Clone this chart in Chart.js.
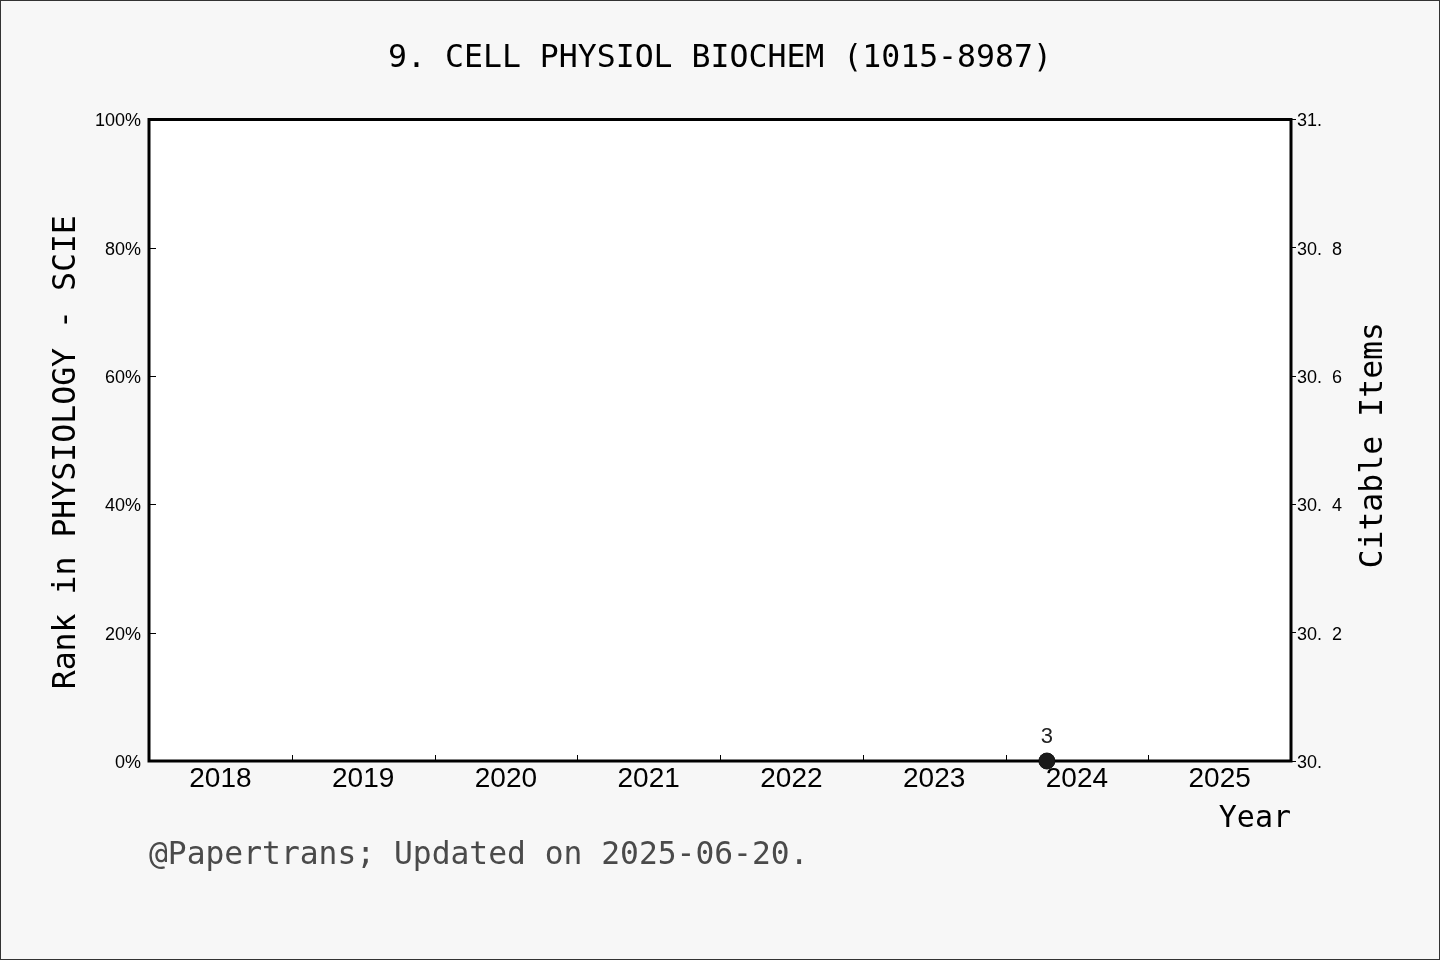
<!DOCTYPE html>
<html>
<head>
<meta charset="utf-8">
<script src="https://cdn.jsdelivr.net/npm/chart.js@4/dist/chart.umd.min.js"></script>
<style>
    body { margin: 0; background: #f7f7f7; }
    canvas { display: block; }
</style>
</head>
<body>
<canvas id="grafiek" width="1440" height="960"></canvas>
<script>
// Jaren op de x-as
const jaren = ["2018", "2019", "2020", "2021", "2022", "2023", "2024", "2025"];
// Rangpunten (jaar als getal, percentiel, label)
const rangJaar = [2023.79];
const rangPct = [0];
const rangLabel = ["3"];
// Tick labels
const linksTicks = ["0%", "20%", "40%", "60%", "80%", "100%"];
const rechtsTicks = ["30.", "30.  2", "30.  4", "30.  6", "30.  8", "31."];

const monoFont = "'DejaVu Sans Mono', monospace";
const sansFont = "'Liberation Sans', Arial, sans-serif";

const achtergrond = {
    id: 'achtergrond',
    beforeDraw(chart) {
        const { ctx, chartArea: a } = chart;
        ctx.save();
        ctx.fillStyle = '#f7f7f7';
        ctx.fillRect(0, 0, chart.width, chart.height);
        ctx.fillStyle = '#ffffff';
        ctx.fillRect(a.left, a.top, a.right - a.left, a.bottom - a.top);
        ctx.restore();
    },
    afterDraw(chart) {
        const { ctx, chartArea: a, scales } = chart;
        ctx.save();
        // kader rond de grafiek
        ctx.strokeStyle = '#000';
        ctx.lineWidth = 3;
        ctx.strokeRect(a.left, a.top, a.right - a.left, a.bottom - a.top);

        // tickjes naar binnen
        ctx.lineWidth = 1;
        const x = scales.x;
        for (let i = 1; i < jaren.length; i++) {
            const px = Math.round((x.getPixelForValue(i - 1) + x.getPixelForValue(i)) / 2) + 0.5;
            ctx.beginPath();
            ctx.moveTo(px, a.bottom);
            ctx.lineTo(px, a.bottom - 6);
            ctx.stroke();
        }
        scales.y.ticks.forEach(t => {
            const py = Math.round(scales.y.getPixelForValue(t.value)) + 0.5;
            ctx.beginPath();
            ctx.moveTo(a.left, py);
            ctx.lineTo(a.left + 7, py);
            ctx.stroke();
        });

        // punt bovenop het kader
        const meta = chart.getDatasetMeta(0);
        ctx.fillStyle = '#1a1a1a';
        meta.data.forEach(p => {
            ctx.beginPath();
            ctx.arc(p.x, p.y, 8, 0, Math.PI * 2);
            ctx.fill();
        });

        // labels bij de punten
        ctx.fillStyle = '#222';
        ctx.font = '22px ' + sansFont;
        ctx.textAlign = 'center';
        ctx.textBaseline = 'bottom';
        meta.data.forEach((p, i) => {
            ctx.fillText(rangLabel[i], p.x, p.y - 13);
        });

        // titels van de verticale assen
        ctx.fillStyle = '#000';
        ctx.font = '31.5px ' + monoFont;
        ctx.textBaseline = 'middle';
        ctx.save();
        ctx.translate(67, (a.top + a.bottom) / 2 + 12);
        ctx.rotate(-Math.PI / 2);
        ctx.fillText('Rank in PHYSIOLOGY - SCIE', 0, 0);
        ctx.restore();
        ctx.save();
        ctx.translate(1374, (a.top + a.bottom) / 2 + 5);
        ctx.rotate(-Math.PI / 2);
        ctx.fillText('Citable Items', 0, 0);
        ctx.restore();
        ctx.restore();

        // voetnoot
        ctx.save();
        ctx.fillStyle = '#4a4a4a';
        ctx.font = '31.3px ' + monoFont;
        ctx.textAlign = 'left';
        ctx.textBaseline = 'middle';
        ctx.fillText('@Papertrans; Updated on 2025-06-20.', a.left, 856);
        // rand rond de afbeelding
        ctx.strokeStyle = '#333';
        ctx.lineWidth = 1;
        ctx.strokeRect(0.5, 0.5, chart.width - 1, chart.height - 1);
        ctx.restore();
    }
};

new Chart(document.getElementById('grafiek'), {
    type: 'scatter',
    data: {
        labels: jaren,
        datasets: [{
            label: 'Rank',
            data: rangJaar.map((j, i) => ({ x: j, y: rangPct[i] })),
            xAxisID: 'xp',
            yAxisID: 'y',
            backgroundColor: '#1a1a1a',
            borderColor: '#1a1a1a',
            pointRadius: 8,
            pointHoverRadius: 8,
            clip: false
        }]
    },
    options: {
        responsive: false,
        animation: false,
        events: [],
        layout: { padding: 0 },
        plugins: {
            legend: { display: false },
            tooltip: { enabled: false },
            title: {
                display: true,
                text: '9. CELL PHYSIOL BIOCHEM (1015-8987)',
                color: '#000',
                font: { family: monoFont, size: 31.5, weight: 'normal', lineHeight: 1 },
                padding: { top: 43, bottom: 45 }
            }
        },
        scales: {
            x: {
                type: 'category',
                position: 'bottom',
                offset: true,
                grid: { display: false },
                border: { display: false },
                ticks: { color: '#000', font: { family: sansFont, size: 28 }, padding: -7 },
                title: {
                    display: true,
                    text: 'Year',
                    align: 'end',
                    color: '#000',
                    font: { family: monoFont, size: 30, lineHeight: 1 },
                    padding: { top: 0, bottom: 126 }
                },
                afterFit(s) { s.height = 199; }
            },
            xp: {
                type: 'linear',
                display: false,
                min: 2017.5,
                max: 2025.5
            },
            y: {
                position: 'left',
                min: 0,
                max: 100,
                ticks: {
                    stepSize: 20,
                    color: '#000',
                    font: { family: sansFont, size: 18 },
                    padding: 0,
                    labelOffset: 2,
                    callback: (v, i) => linksTicks[i]
                },
                grid: { display: false },
                border: { display: false },
                afterFit(s) { s.width = 149; }
            },
            y2: {
                position: 'right',
                min: 30,
                max: 31,
                ticks: {
                    stepSize: 0.2,
                    color: '#000',
                    font: { family: sansFont, size: 18 },
                    padding: 1,
                    labelOffset: 2,
                    callback: (v, i) => rechtsTicks[i]
                },
                grid: { drawOnChartArea: false, drawTicks: true, tickLength: 5, color: '#000' },
                border: { display: false },
                afterFit(s) { s.width = 149; }
            }
        }
    },
    plugins: [achtergrond]
});
</script>
</body>
</html>
